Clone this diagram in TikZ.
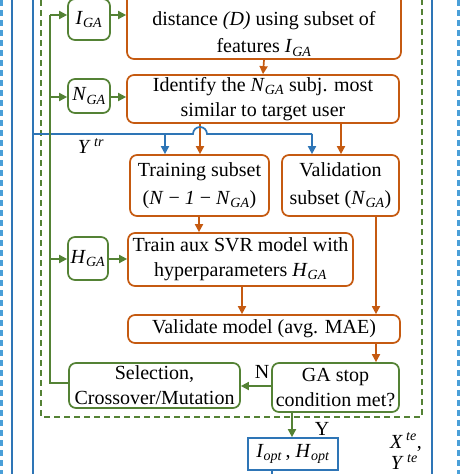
\documentclass[tikz,border=0pt]{standalone}
\usepackage{fontspec}
\setmainfont{Liberation Serif}
\usetikzlibrary{arrows.meta}
\definecolor{org}{HTML}{C55A11}
\definecolor{grn}{HTML}{548235}
\definecolor{blu}{HTML}{2E75B6}
\definecolor{lblu}{HTML}{4A9FD8}
\newcommand{\ga}[1]{\textit{#1}\textsubscript{\textit{GA}}}
\begin{document}
\begin{tikzpicture}[x=1pt,y=-1pt,
  font=\fontsize{20}{25}\selectfont,
  base/.style={rounded corners=7pt, line width=1.7pt, align=center, inner sep=0pt},
  obox/.style={base, draw=org},
  gbox/.style={base, draw=grn},
  bbox/.style={draw=blu, line width=1.7pt, align=center, inner sep=0pt},
  oarr/.style={draw=org, line width=1.7pt, -{Triangle[length=8pt,width=8pt]}},
  garr/.style={draw=grn, line width=1.7pt, -{Triangle[length=8pt,width=8pt]}},
  gline/.style={draw=grn, line width=1.7pt},
  barr/.style={draw=blu, line width=1.7pt, -{Triangle[length=8pt,width=8pt]}},
  bline/.style={draw=blu, line width=1.7pt},
  lbdash/.style={draw=lblu, line width=3pt, dash pattern=on 6pt off 4pt},
  gdash/.style={draw=grn, line width=1.7pt, dash pattern=on 6pt off 4pt},
  lbl/.style={inner sep=0pt}
]
\useasboundingbox (0,0) rectangle (474,474);
% frame lines
\draw[lbdash] (1,-10) -- (1,484);
\draw[lbdash] (458,-10) -- (458,484);
\draw[bline] (12,-10) -- (12,484);
\draw[bline] (33,-10) -- (33,484);
\draw[bline] (432,-10) -- (432,484);
\draw[gdash] (41,-30) -- (41,417) -- (422,417) -- (422,-30);
% boxes
\node[obox, minimum width=274pt, minimum height=85pt] (b1) at (264,16.5) {};
\node[lbl, align=center, font=\fontsize{20}{27}\selectfont] (b1t) at (264,34) {distance \textit{(D)} using subset of\\features \ga{I}};
\node[obox, minimum width=272pt, minimum height=48pt] (b2) at (263,99) {Identify the \ga{N} subj. most\\similar to target user};
\node[gbox, minimum width=42pt, minimum height=41pt] (iga) at (89,19.5) {\ga{I}};
\node[gbox, minimum width=42pt, minimum height=34pt] (nga) at (89,96) {\ga{N}};
\node[obox, minimum width=139pt, minimum height=61pt, font=\fontsize{20}{28}\selectfont] (trs) at (199.5,185.5) {Training subset\\(\textit{N} − \textit{1} − \ga{N})};
\node[obox, minimum width=117pt, minimum height=61pt, font=\fontsize{20}{28}\selectfont] (vas) at (340.5,185.5) {Validation\\subset (\ga{N})};
\node[obox, minimum width=225pt, minimum height=53pt] (tra) at (240.5,259.5) {Train aux SVR model with\\hyperparameters \ga{H}};
\node[gbox, minimum width=40pt, minimum height=43pt] (hga) at (88,258.5) {\ga{H}};
\node[obox, minimum width=272pt, minimum height=28pt] (val) at (264,329) {Validate model (avg. MAE)};
\node[gbox, minimum width=127pt, minimum height=49pt] (gas) at (335.5,387.5) {GA stop\\condition met?};
\node[gbox, minimum width=171pt, minimum height=45pt] (sel) at (154.5,385.5) {Selection,\\Crossover/Mutation};
\node[bbox, minimum width=90pt, minimum height=32pt] (opt) at (293,454) {\textit{I}\textsubscript{\textit{opt}}\,, \textit{H}\textsubscript{\textit{opt}}};
% labels
\node[lbl] (ytr) at (91,146) {\textit{Y}\,\textsuperscript{\textit{tr}}};
\node[lbl] (nl) at (262,372) {N};
\node[lbl] (yl) at (322,429) {Y};
\node[lbl, anchor=east] (xte) at (422,442) {\textit{X}\,\textsuperscript{\textit{te}},};
\node[lbl, anchor=east] (yte) at (418,462) {\textit{Y}\,\textsuperscript{\textit{te}}};
% coordinates
\coordinate (gtop) at (50,15);
\coordinate (bl) at (33,134);
\coordinate (h1) at (193,134);
\coordinate (bt) at (165,134);
\coordinate (bv) at (312,134);
\coordinate (bbot) at (272,484);
% orange arrows
\draw[oarr] (b1.south) -- (b2.north);
\draw[oarr] (b2.south -| 200,0) -- (trs.north -| 200,0);
\draw[oarr] (b2.south -| 341,0) -- (vas.north -| 341,0);
\draw[oarr] (trs.south -| 199,0) -- (tra.north -| 199,0);
\draw[oarr] (tra.south -| 242,0) -- (val.north -| 242,0);
\draw[oarr] (vas.south -| 376,0) -- (val.north -| 376,0);
\draw[oarr] (val.south -| 376,0) -- (gas.north -| 376,0);
% blue Y^tr line
\draw[bline] (bl) -- (h1) arc[start angle=180, end angle=0, radius=7pt] -- (bv);
\draw[barr] (bv) -- (vas.north -| bv);
\draw[barr] (bt) -- (trs.north -| bt);
\draw[bline] (opt.south -| bbot) -- (bbot);
% green
\draw[gline] (sel.west |- 0,383) -- (50,383) -- (gtop);
\draw[garr] (gtop) -- (iga.west |- gtop);
\draw[garr] (iga.east |- gtop) -- (b1.west |- gtop);
\draw[garr] (50,97) -- (nga.west |- 0,97);
\draw[garr] (nga.east |- 0,97) -- (b2.west |- 0,97);
\draw[garr] (50,259) -- (hga.west |- 0,259);
\draw[garr] (hga.east |- 0,259) -- (tra.west |- 0,259);
\draw[garr] (gas.west |- 0,386) -- (sel.east |- 0,386);
\draw[garr] (gas.south -| 292,0) -- (opt.north -| 292,0);
\end{tikzpicture}
\end{document}
